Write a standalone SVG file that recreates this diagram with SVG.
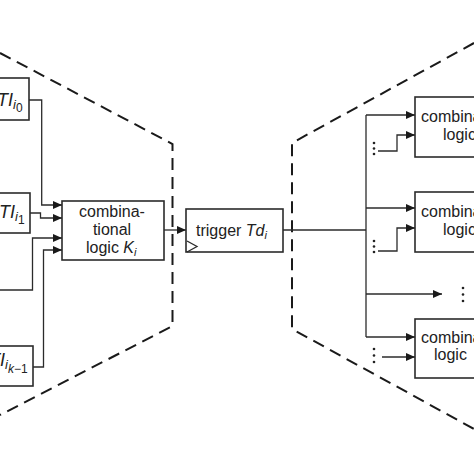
<svg xmlns="http://www.w3.org/2000/svg" width="474" height="474" viewBox="0 0 474 474">
<style>
.b{fill:#fff;stroke:#2b2b2b;stroke-width:1.6}
.c{fill:none;stroke:#2b2b2b;stroke-width:1.3}
.d{fill:none;stroke:#1a1a1a;stroke-width:2;stroke-dasharray:12 7}
text{font-family:"Liberation Sans",Arial,sans-serif;font-size:16px;fill:#222}
.it{font-style:italic}
.ti{font-size:18px}
.dot{fill:#222}
</style>
<defs>
<marker id="ah" markerWidth="9" markerHeight="8" refX="9" refY="4" orient="auto" markerUnits="userSpaceOnUse">
<path d="M0,0 L9,4 L0,8 Z" fill="#1a1a1a"/>
</marker>
</defs>
<rect width="474" height="474" fill="#fff"/>
<g id="frames">
<polyline class="d" points="0,53 172.5,144 172.5,326 0,415"/>
<polyline class="d" points="474,43 292,143 292,329 474,429"/>
</g>
<g id="connectors">
<polyline class="c" points="29,100 41.7,100 41.7,205 62,205" marker-end="url(#ah)"/>
<polyline class="c" points="30,213 40.5,213 40.5,218 62,218" marker-end="url(#ah)"/>
<polyline class="c" points="0,290 32.5,290 32.5,238 62,238" marker-end="url(#ah)"/>
<polyline class="c" points="33,367 43.5,367 43.5,250 62,250" marker-end="url(#ah)"/>
<polyline class="c" points="164,230 186,230" marker-end="url(#ah)"/>
<polyline class="c" points="283,230 366,230"/>
<polyline class="c" points="366,115 366,337"/>
<polyline class="c" points="366,115 415,115" marker-end="url(#ah)"/>
<polyline class="c" points="378,151 397,151 397,135 415,135" marker-end="url(#ah)"/>
<polyline class="c" points="366,208 415,208" marker-end="url(#ah)"/>
<polyline class="c" points="378,251 397,251 397,228 415,228" marker-end="url(#ah)"/>
<polyline class="c" points="366,294 442,294" marker-end="url(#ah)"/>
<polyline class="c" points="366,337 415,337" marker-end="url(#ah)"/>
<polyline class="c" points="382,357 415,357" marker-end="url(#ah)"/>
</g>
<g id="dots">
<circle class="dot" cx="374" cy="143" r="1.3"/><circle class="dot" cx="374" cy="148.5" r="1.3"/><circle class="dot" cx="374" cy="154" r="1.3"/>
<circle class="dot" cx="374" cy="241" r="1.3"/><circle class="dot" cx="374" cy="246.5" r="1.3"/><circle class="dot" cx="374" cy="252" r="1.3"/>
<circle class="dot" cx="463" cy="288" r="1.3"/><circle class="dot" cx="463" cy="294.5" r="1.3"/><circle class="dot" cx="463" cy="301" r="1.3"/>
<circle class="dot" cx="374" cy="349" r="1.3"/><circle class="dot" cx="374" cy="355.5" r="1.3"/><circle class="dot" cx="374" cy="362" r="1.3"/>
</g>
<g id="ti0">
<rect class="b" x="-10" y="78" width="39" height="42"/>
<text class="ti" x="-3" y="106"><tspan class="it">TI</tspan><tspan class="it" font-size="13" dy="3">i</tspan><tspan font-size="12" dy="3">0</tspan></text>
</g>
<g id="ti1">
<rect class="b" x="-10" y="193" width="40" height="40"/>
<text class="ti" x="-1" y="218"><tspan class="it">TI</tspan><tspan class="it" font-size="13" dy="3">i</tspan><tspan font-size="12" dy="3">1</tspan></text>
</g>
<g id="tik">
<rect class="b" x="-10" y="346" width="43" height="40"/>
<text class="ti" x="-11" y="366"><tspan class="it">TI</tspan><tspan class="it" font-size="13" dy="3">i</tspan><tspan class="it" font-size="12" dy="4">k</tspan><tspan font-size="12">−1</tspan></text>
</g>
<g id="comb">
<rect class="b" x="62" y="201" width="102" height="59"/>
<text x="112" y="217" text-anchor="middle">combina-</text>
<text x="112" y="235" text-anchor="middle">tional</text>
<text x="86" y="253">logic <tspan class="it">K</tspan><tspan class="it" font-size="11" dy="3">i</tspan></text>
</g>
<g id="trigger">
<rect class="b" x="186" y="209" width="97" height="43"/>
<polyline class="c" points="187,241 197,246.5 187,252"/>
<text x="196" y="236">trigger <tspan class="it">Td</tspan><tspan class="it" font-size="11" dy="3">i</tspan></text>
</g>
<g id="logic1">
<rect class="b" x="415" y="97" width="80" height="60"/>
<text x="421" y="122">combinational</text>
<text x="443" y="140">logic</text>
</g>
<g id="logic2">
<rect class="b" x="415" y="192" width="80" height="60"/>
<text x="421" y="217">combinational</text>
<text x="443" y="235">logic</text>
</g>
<g id="logic3">
<rect class="b" x="415" y="319" width="80" height="59"/>
<text x="421" y="343">combinational</text>
<text x="434" y="360">logic</text>
</g>
</svg>
